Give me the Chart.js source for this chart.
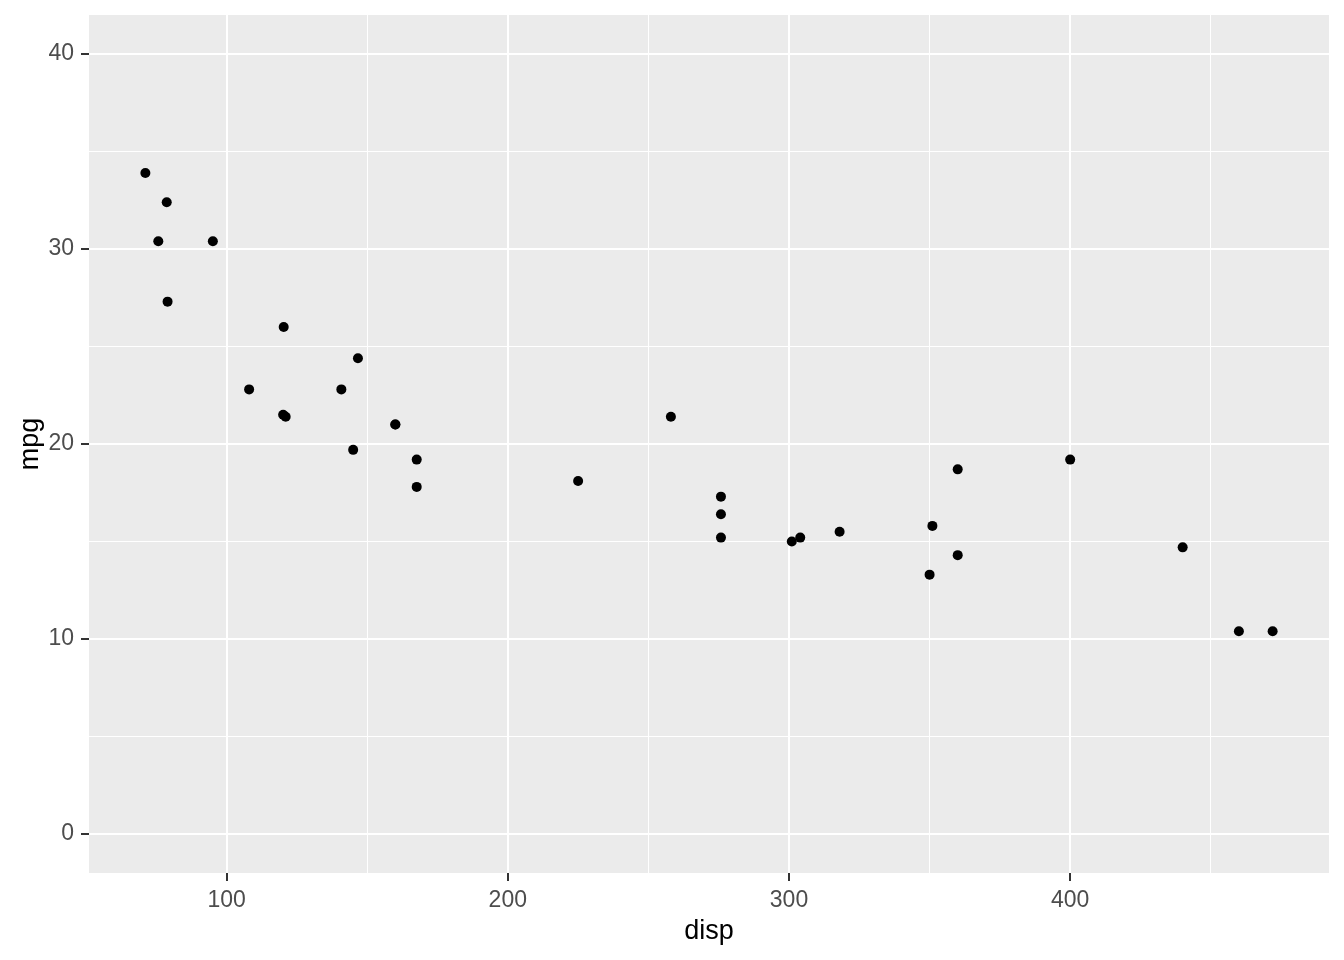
<!DOCTYPE html>
<html>
<head>
<meta charset="utf-8">
<script src="https://cdn.jsdelivr.net/npm/chart.js@4"></script>
<style>
  html, body { margin: 0; padding: 0; background: #ffffff; }
  #wrap { width: 1344px; height: 960px; }
</style>
</head>
<body>
<div id="wrap"><canvas id="chart" width="1344" height="960"></canvas></div>
<script>
// mtcars: displacement vs miles per gallon
const dispValues = [160, 160, 108, 258, 360, 225, 360, 146.7, 140.8, 167.6, 167.6, 275.8, 275.8, 275.8, 472, 460, 440, 78.7, 75.7, 71.1, 120.1, 318, 304, 350, 400, 79, 120.3, 95.1, 351, 145, 301, 121];
const mpgValues = [21.0, 21.0, 22.8, 21.4, 18.7, 18.1, 14.3, 24.4, 22.8, 19.2, 17.8, 16.4, 17.3, 15.2, 10.4, 10.4, 14.7, 32.4, 30.4, 33.9, 21.5, 15.5, 15.2, 13.3, 19.2, 27.3, 26.0, 30.4, 15.8, 19.7, 15.0, 21.4];

const xMajorTicks = [100, 200, 300, 400];
const xMinorTicks = [150, 250, 350, 450];
const yMajorTicks = [0, 10, 20, 30, 40];
const yMinorTicks = [5, 15, 25, 35];

const xLimits = [51.055, 492.045];
const yLimits = [-2, 42];

const panelBackground = {
  id: "panelBackground",
  beforeDraw(chart) {
    const { ctx, chartArea } = chart;
    ctx.save();
    ctx.fillStyle = "#EBEBEB";
    ctx.fillRect(chartArea.left, chartArea.top, chartArea.right - chartArea.left, chartArea.bottom - chartArea.top);
    ctx.restore();
  },
};

function axisOptions(major, minor, limits, title, isX) {
  const isMajor = (v) => major.includes(v);
  return {
    type: "linear",
    min: limits[0],
    max: limits[1],
    afterBuildTicks: (scale) => {
      scale.ticks = [...major, ...minor].sort((a, b) => a - b).map((value) => ({ value }));
    },
    afterFit: (scale) => {
      // fixed gutters like the ggplot panel, no label overflow padding
      if (isX) scale.height = 87;
      else scale.width = 89;
      scale.paddingTop = 0;
      scale.paddingBottom = 0;
      scale.paddingLeft = 0;
      scale.paddingRight = 0;
    },
    border: { display: false },
    grid: {
      color: "#ffffff",
      lineWidth: (ctx) => (isMajor(ctx.tick.value) ? 2 : 1),
      tickLength: 8,
      tickWidth: 2,
      tickColor: (ctx) => (isMajor(ctx.tick.value) ? "#333333" : "rgba(0,0,0,0)"),
    },
    ticks: {
      autoSkip: false,
      maxRotation: 0,
      padding: isX ? 6 : 7,
      color: "#4D4D4D",
      font: { family: "'Liberation Sans', Arial, sans-serif", size: 23 },
      callback: (value) => (isMajor(value) ? String(value) : ""),
    },
    title: {
      display: true,
      text: title,
      color: "#000000",
      padding: isX ? { top: 4, bottom: 12 } : { top: 14, bottom: 8 },
      font: { family: "'Liberation Sans', Arial, sans-serif", size: 27 },
    },
  };
}

new Chart(document.getElementById("chart"), {
  type: "scatter",
  data: {
    datasets: [
      {
        data: dispValues.map((x, i) => ({ x, y: mpgValues[i] })),
        backgroundColor: "#000000",
        borderColor: "#000000",
        borderWidth: 0,
        pointRadius: 5,
        pointHoverRadius: 5,
      },
    ],
  },
  options: {
    responsive: false,
    animation: false,
    devicePixelRatio: 1,
    layout: { padding: { left: 0, right: 15, top: 15, bottom: 0 } },
    scales: {
      x: axisOptions(xMajorTicks, xMinorTicks, xLimits, "disp", true),
      y: axisOptions(yMajorTicks, yMinorTicks, yLimits, "mpg", false),
    },
    plugins: {
      legend: { display: false },
      tooltip: { enabled: false },
    },
  },
  plugins: [panelBackground],
});
</script>
</body>
</html>
